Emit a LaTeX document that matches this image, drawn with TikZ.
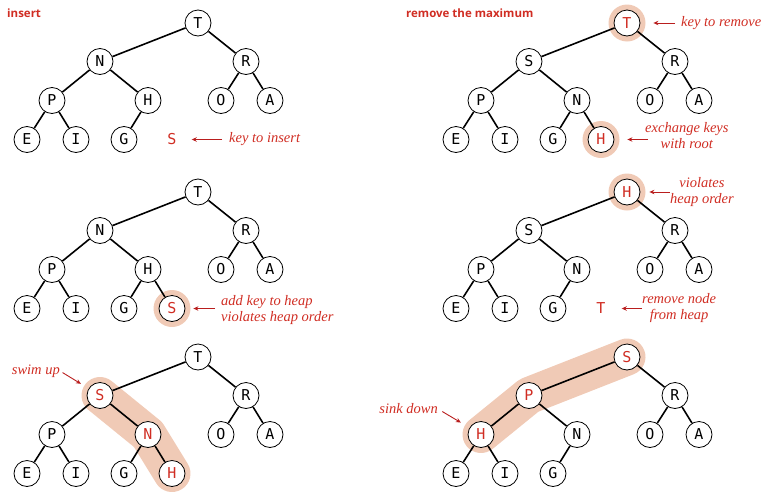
\documentclass[tikz,border=0pt]{standalone}
\usepackage{fontspec}
\usepackage{tikz}
\usetikzlibrary{arrows.meta, calc, positioning}

\newfontfamily\keyfont{DejaVu Sans Mono}
\newfontfamily\titlefont{Open Sans}
\newfontfamily\notefont{Liberation Serif}

\definecolor{heapred}{RGB}{208,45,35}
\definecolor{arrowred}{RGB}{185,30,30}
\definecolor{halosand}{RGB}{240,202,182}

\tikzset{
    key/.style={circle, draw, fill=white, line width=0.8pt, minimum size=26pt, inner sep=0pt,
        font=\keyfont\fontsize{15}{15}\selectfont},
    loose/.style={inner sep=0pt, text=heapred, font=\keyfont\fontsize{15}{15}\selectfont},
    hot/.style={text=heapred},
    link/.style={line width=1.6pt},
    halo/.style={halosand, line width=37pt, line cap=round, line join=round},
    note/.style={inner sep=0pt, text=heapred, font=\notefont\fontsize{14.5}{16}\selectfont\itshape},
    pointer/.style={arrowred, line width=0.9pt, -{Stealth[length=5pt, width=4.5pt]}},
    title/.style={inner sep=0pt, text=heapred, font=\titlefont\bfseries\fontsize{11.5}{14}\selectfont}
}

% slots of a heap of 11 keys, root at (0,0)
\newcommand{\heapslots}{%
    \foreach \i/\x/\y in {1/0/0, 2/-98/38.5, 3/48/38.5, 4/-146/77.5, 5/-50/77.5, 6/23/77.5,
        7/72/77.5, 8/-171/116.5, 9/-122/116.5, 10/-74/116.5, 11/-26/116.5}
        {\coordinate (s\i) at (\x,\y);}%
}

\begin{document}
\begin{tikzpicture}[x=1pt, y=-1pt]

    \useasboundingbox (0,0) rectangle (771,493);

    % Titres
    \node[title, anchor=base west] (ins) at (7,17) {insert};
    \node[title, anchor=base west] (rem) at (406,17) {remove the maximum};

    % insert 1 : cle a inserer
    \begin{scope}[shift={(198,23)}, name prefix=ia-]
        \heapslots
        \foreach \i/\k in {1/T, 2/N, 3/R, 4/P, 5/H, 6/O, 7/A, 8/E, 9/I, 10/G} {
            \node[key] (\i) at (s\i) {\k};
        }
        \node[loose] (11) at (s11) {S};
        \foreach \a/\b in {1/2, 1/3, 2/4, 2/5, 3/6, 3/7, 4/8, 4/9, 5/10} {
            \draw[link] (\a) -- (\b);
        }
        \node[note, anchor=west] (keyins) at (31,116.5) {key to insert};
        \draw[pointer, shorten <=7pt, shorten >=15pt] (keyins) -- (11);
    \end{scope}

    % insert 2 : ajout en feuille
    \begin{scope}[shift={(198,192)}, name prefix=ib-]
        \heapslots
        \fill[halosand] (s11) circle (18.5pt);
        \foreach \i/\k in {1/T, 2/N, 3/R, 4/P, 5/H, 6/O, 7/A, 8/E, 9/I, 10/G} {
            \node[key] (\i) at (s\i) {\k};
        }
        \node[key, hot] (11) at (s11) {S};
        \foreach \a/\b in {1/2, 1/3, 2/4, 2/5, 3/6, 3/7, 4/8, 4/9, 5/10, 5/11} {
            \draw[link] (\a) -- (\b);
        }
        \node[note, anchor=west, align=left] (addkey) at (23,118) {add key to heap\\violates heap order};
        \draw[pointer, shorten <=6pt, shorten >=8pt] (addkey.west |- 11) -- (11);
    \end{scope}

    % insert 3 : remontee
    \begin{scope}[shift={(198,357)}, name prefix=ic-]
        \heapslots
        \draw[halo] (s2) -- (s5) -- (s11);
        \foreach \i/\k in {1/T, 3/R, 4/P, 6/O, 7/A, 8/E, 9/I, 10/G} {
            \node[key] (\i) at (s\i) {\k};
        }
        \foreach \i/\k in {2/S, 5/N, 11/H} {
            \node[key, hot] (\i) at (s\i) {\k};
        }
        \foreach \a/\b in {1/2, 1/3, 2/4, 2/5, 3/6, 3/7, 4/8, 4/9, 5/10, 5/11} {
            \draw[link] (\a) -- (\b);
        }
        \node[note, anchor=east] (swim) at (-138,14) {swim up};
        \draw[pointer, shorten <=3pt, shorten >=9pt] (swim.east) -- (2);
    \end{scope}

    % remove 1 : echange racine / derniere cle
    \begin{scope}[shift={(627,23)}, name prefix=ra-]
        \heapslots
        \fill[halosand] (s1) circle (18.5pt);
        \fill[halosand] (s11) circle (18.5pt);
        \foreach \i/\k in {2/S, 3/R, 4/P, 5/N, 6/O, 7/A, 8/E, 9/I, 10/G} {
            \node[key] (\i) at (s\i) {\k};
        }
        \foreach \i/\k in {1/T, 11/H} {
            \node[key, hot] (\i) at (s\i) {\k};
        }
        \foreach \a/\b in {1/2, 1/3, 2/4, 2/5, 3/6, 3/7, 4/8, 4/9, 5/10, 5/11} {
            \draw[link] (\a) -- (\b);
        }
        \node[note, anchor=west] (keyrem) at (54,0) {key to remove};
        \draw[pointer, shorten <=6pt, shorten >=13pt] (keyrem) -- (1);
        \node[note, anchor=west, align=center] (exch) at (18,112.5) {exchange keys\\with root};
        \draw[pointer, shorten <=-3pt, shorten >=13pt] (exch.west |- 11) -- (11);
    \end{scope}

    % remove 2 : suppression du noeud
    \begin{scope}[shift={(627,192)}, name prefix=rb-]
        \heapslots
        \fill[halosand] (s1) circle (18.5pt);
        \foreach \i/\k in {2/S, 3/R, 4/P, 5/N, 6/O, 7/A, 8/E, 9/I, 10/G} {
            \node[key] (\i) at (s\i) {\k};
        }
        \node[key, hot] (1) at (s1) {H};
        \node[loose] (11) at (s11) {T};
        \foreach \a/\b in {1/2, 1/3, 2/4, 2/5, 3/6, 3/7, 4/8, 4/9, 5/10} {
            \draw[link] (\a) -- (\b);
        }
        \node[note, anchor=west, align=center] (viol) at (43,0.5) {violates\\heap order};
        \draw[pointer, shorten <=0pt, shorten >=9pt] (viol.west |- 1) -- (1);
        \node[note, anchor=west, align=center] (remnode) at (15,116) {remove node\\from heap};
        \draw[pointer, shorten <=0pt, shorten >=16pt] (remnode.west |- 11) -- (11);
    \end{scope}

    % remove 3 : descente
    \begin{scope}[shift={(627,357)}, name prefix=rc-]
        \heapslots
        \draw[halo] (s1) -- (s2) -- (s4);
        \foreach \i/\k in {3/R, 5/N, 6/O, 7/A, 8/E, 9/I, 10/G} {
            \node[key] (\i) at (s\i) {\k};
        }
        \foreach \i/\k in {1/S, 2/P, 4/H} {
            \node[key, hot] (\i) at (s\i) {\k};
        }
        \foreach \a/\b in {1/2, 1/3, 2/4, 2/5, 3/6, 3/7, 4/8, 4/9, 5/10} {
            \draw[link] (\a) -- (\b);
        }
        \node[note, anchor=east] (sink) at (-189,52) {sink down};
        \draw[pointer, shorten <=5pt, shorten >=10pt] (sink.east) -- (4);
    \end{scope}

\end{tikzpicture}
\end{document}
